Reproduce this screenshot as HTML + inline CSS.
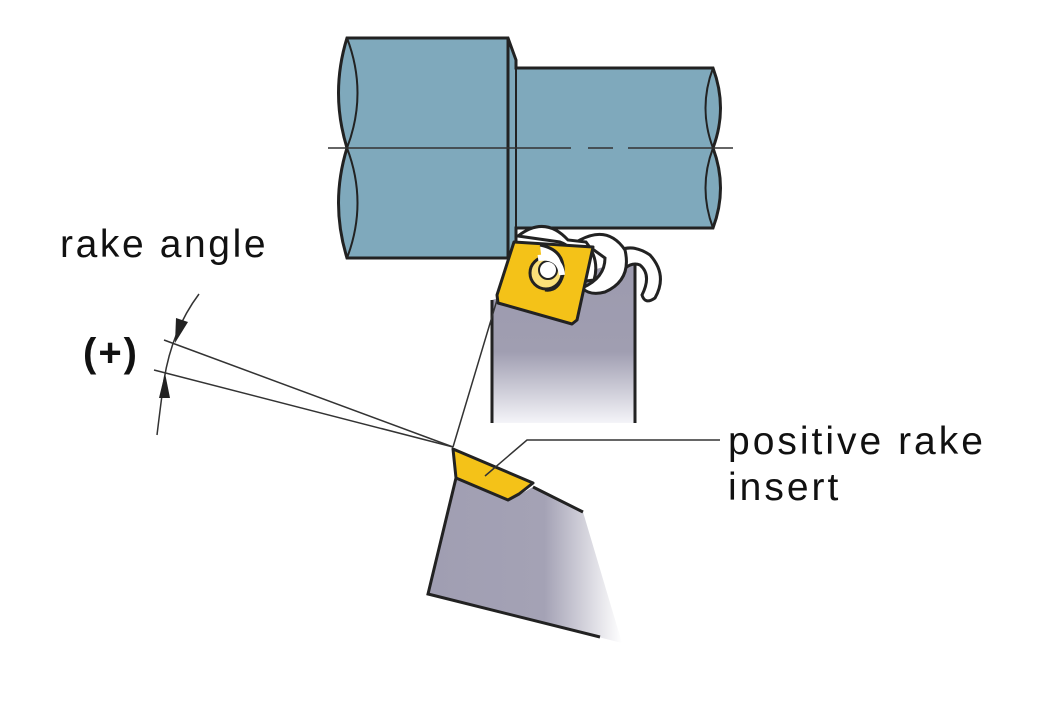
<!DOCTYPE html>
<html><head><meta charset="utf-8"><style>
html,body{margin:0;padding:0;background:#fff;}
svg{display:block;}
text{font-family:"Liberation Sans",sans-serif;fill:#111;}
</style></head><body>
<svg width="1049" height="708" viewBox="0 0 1049 708" xmlns="http://www.w3.org/2000/svg">
<defs>
<linearGradient id="hg" x1="0" y1="0" x2="0" y2="1">
<stop offset="0" stop-color="#9c9aae"/><stop offset="0.55" stop-color="#a09eb1"/><stop offset="1" stop-color="#f4f4f8"/>
</linearGradient>
<linearGradient id="bg" x1="0" y1="0" x2="1" y2="0">
<stop offset="0" stop-color="#a09eb2"/><stop offset="0.6" stop-color="#a4a2b5"/><stop offset="1" stop-color="#ffffff"/>
</linearGradient>
</defs>
<path d="M347,38 L508,38 L516,60 L516,68 L713,68 Q728,108 713,148 Q728,188 713,228 L516,228 L516,258 L347,258 Q330,203 347,148 Q330,93 347,38 Z" fill="#7fa9bc" stroke="#222" stroke-width="3"/>
<path d="M347,38 Q368,93 347,148 Q368,203 347,258" fill="none" stroke="#222" stroke-width="2"/>
<path d="M713,68 Q698,108 713,148 Q698,188 713,228" fill="none" stroke="#222" stroke-width="2"/>
<line x1="508" y1="38" x2="508" y2="258" stroke="#222" stroke-width="3"/>
<line x1="516" y1="60" x2="516" y2="228" stroke="#222" stroke-width="2"/>
<line x1="328" y1="148" x2="571" y2="148" stroke="#333" stroke-width="1.5"/>
<line x1="588" y1="148" x2="613" y2="148" stroke="#333" stroke-width="1.5"/>
<line x1="628" y1="148" x2="733" y2="148" stroke="#333" stroke-width="1.5"/>
<path d="M492,423 L492,300 L610,265 L635,265 L635,423" fill="url(#hg)" stroke="none"/>
<line x1="492" y1="300" x2="492" y2="423" stroke="#222" stroke-width="3"/>
<line x1="635" y1="262" x2="635" y2="423" stroke="#222" stroke-width="3"/>
<path d="M605,262 Q625,238 650,255 Q668,275 655,298 Q645,305 642,295 Q652,275 640,265 Q628,260 615,280 Z" fill="#fff" stroke="#222" stroke-width="3"/>
<path d="M580,240 Q608,225 625,250 Q632,280 605,292 Q590,296 582,288 Q605,278 605,258 Z" fill="#fff" stroke="#222" stroke-width="3"/>
<path d="M518,236 Q545,215 568,240 L586,242 Q600,260 594,280 L578,282 Q582,250 560,242 Z" fill="#fff" stroke="#222" stroke-width="3"/>
<path d="M514,242 L593,247 L577,320 L572,324 L498,303 L497,295 Z" fill="#f4c218" stroke="#222" stroke-width="3" stroke-linejoin="round"/>
<path d="M540,245 Q566,250 563,275 Q558,292 545,290" fill="#fff" stroke="#222" stroke-width="3"/>
<circle cx="546" cy="273" r="16" fill="#f9e07a" stroke="#222" stroke-width="3"/>
<circle cx="548" cy="270" r="9" fill="#fff" stroke="#222" stroke-width="2"/>
<path d="M538,258 Q560,255 562,275" fill="none" stroke="#fff" stroke-width="6"/>
<path d="M456,478 L428,594 L622,643 L583,512 L533,487 L519,495 L508,500 Z" fill="url(#bg)"/>
<path d="M456,478 L428,594 L600,637" fill="none" stroke="#222" stroke-width="3"/>
<path d="M533,487 L583,512" fill="none" stroke="#222" stroke-width="3"/>
<path d="M453,449 L533,483 L519,494 L508,500 L456,478 Z" fill="#f4c218" stroke="#222" stroke-width="3" stroke-linejoin="round"/>
<line x1="453" y1="447" x2="164" y2="340" stroke="#333" stroke-width="1.5"/>
<line x1="453" y1="447" x2="154" y2="370" stroke="#333" stroke-width="1.5"/>
<line x1="453" y1="447" x2="497" y2="300" stroke="#333" stroke-width="1.5"/>
<path d="M199,294 Q172,330 164,380 Q160,410 157,435" fill="none" stroke="#333" stroke-width="1.5"/>
<path d="M176,318 L188,322 L175,343 Z" fill="#222"/>
<path d="M165,373 L170,398 L159,398 Z" fill="#222"/>
<polyline points="485,476 527,440 720,440" fill="none" stroke="#333" stroke-width="1.5"/>
<text x="60" y="257" font-size="39" letter-spacing="2.6">rake angle</text>
<text x="83" y="366" font-size="40" font-weight="bold" letter-spacing="2">(+)</text>
<text x="728" y="454" font-size="39" letter-spacing="3">positive rake</text>
<text x="728" y="500" font-size="39" letter-spacing="3">insert</text>
</svg>
</body></html>
